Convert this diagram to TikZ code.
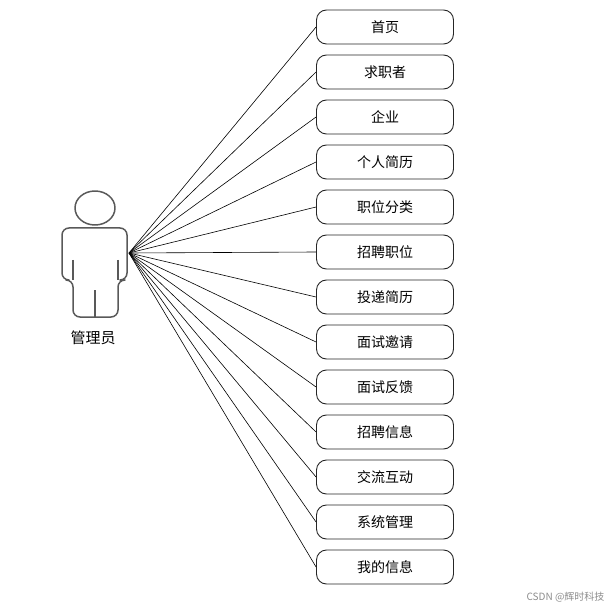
\documentclass[tikz,border=0pt]{standalone}
\usepackage{fontspec}
\setmainfont{Noto Sans CJK SC}
\begin{document}
\begin{tikzpicture}[x=1pt,y=-1pt,
  uc/.style={draw=black!85,line width=0.9pt,rounded corners=10pt,minimum width=137pt,minimum height=34pt,font=\fontsize{14}{16}\selectfont,inner sep=0pt},
  act/.style={draw=black!65,line width=1.5pt,line join=round}]
\useasboundingbox (0,0) rectangle (612,609);
\coordinate (hub) at (129,253);
\draw[act] (95,208) ellipse (20 and 17);
\draw[act,rounded corners=7pt] (73,317) -- (73,280) -- (62,280) -- (62,228) -- (127,228) -- (127,280) -- (118,280) -- (118,317) -- cycle;
\draw[act] (73,260) -- (73,280) (118,260) -- (118,280) (95,290) -- (95,317);
\node[font=\fontsize{15}{17}\selectfont] (actor) at (93,338) {管理员};
\foreach \t [count=\i] in {首页,求职者,企业,个人简历,职位分类,招聘职位,投递简历,面试邀请,面试反馈,招聘信息,交流互动,系统管理,我的信息}{
  \node[uc] (u\i) at (385,{27+45*(\i-1)}) {\t};
  \draw[line width=0.6pt] (hub) -- (u\i.west);
}
\node[font=\fontsize{10}{12}\selectfont,text=black!45,anchor=east] (wm) at (608,597) {CSDN @辉时科技};
\end{tikzpicture}
\end{document}
